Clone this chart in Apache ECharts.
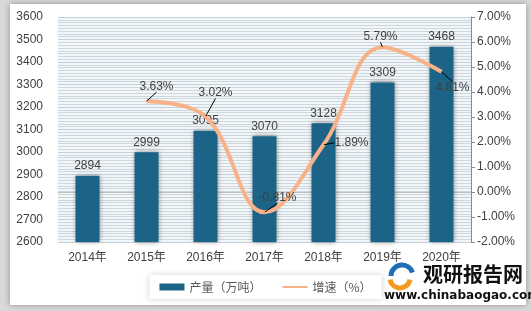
<!DOCTYPE html>
<html>
<head>
<meta charset="utf-8">
<script src="https://cdn.jsdelivr.net/npm/echarts@6/dist/echarts.min.js"></script>
<style>
html,body{margin:0;padding:0;background:#d9d9d9;}
#wrap{position:absolute;left:10px;top:4px;width:516px;height:301px;background:#fff;box-shadow:0 0 6px rgba(0,0,0,0.35);}
#chart{position:absolute;left:0;top:0;width:531px;height:311px;}
</style>
</head>
<body>
<div id="wrap"></div>
<div id="chart"></div>
<script>
//数据
var years = ['2014年', '2015年', '2016年', '2017年', '2018年', '2019年', '2020年'];
var output = [2894, 2999, 3095, 3070, 3128, 3309, 3468];
var growth = ['-', 3.63, 3.02, -0.81, 1.89, 5.79, 4.81];
// 增速标签偏移
var labelOffset = [[0, 0], [10, -15], [10, -24], [13, -15], [28, -2], [-2, -11], [11, 16]];

var font = 'Liberation Sans, Noto Sans CJK SC, sans-serif';
var txt = '#404040';

var myChart = echarts.init(document.getElementById('chart'));
var option = {
	textStyle: { fontFamily: font },
	grid: {
		left: 58,
		right: 60,
		top: 17,
		bottom: 69,
		show: true,
		backgroundColor: '#f3f6f8',
		borderWidth: 0
	},
	legend: {
		left: 'center',
		top: 275,
		itemWidth: 25,
		itemHeight: 7,
		itemGap: 20,
		padding: [6, 10],
		backgroundColor: '#fff',
		shadowBlur: 6,
		shadowColor: 'rgba(0,0,0,0.18)',
		textStyle: { color: '#595959', fontSize: 12, fontFamily: 'Noto Sans CJK SC' },
		data: [
			{ name: '产量（万吨）', icon: 'rect' },
			{ name: '增速（%）' }
		]
	},
	xAxis: {
		type: 'category',
		data: years,
		axisLine: { lineStyle: { color: '#bfbfbf' } },
		axisTick: { show: false },
		axisLabel: { color: txt, fontSize: 12, margin: 10, fontFamily: font }
	},
	yAxis: [{
		type: 'value',
		min: 2600,
		max: 3600,
		interval: 100,
		axisLine: { show: false },
		axisTick: { show: false },
		axisLabel: {
			color: txt,
			fontSize: 12,
			margin: 15,
			formatter: function (v) { return String(v); }
		},
		splitLine: { lineStyle: { color: '#c5d0d8' } },
		minorTick: { show: false, splitNumber: 8 },
		minorSplitLine: { show: true, lineStyle: { color: '#cdd7de' } }
	}, {
		type: 'value',
		min: -2,
		max: 7,
		interval: 1,
		axisLine: { show: true, lineStyle: { color: '#8c8c8c' } },
		axisTick: { show: true, length: 4, lineStyle: { color: '#8c8c8c' } },
		axisLabel: {
			color: txt,
			fontSize: 12,
			margin: 6,
			formatter: function (v) { return v.toFixed(2) + '%'; }
		},
		splitLine: { show: false }
	}],
	series: [{
		name: '产量（万吨）',
		type: 'bar',
		barWidth: 24,
		data: output,
		itemStyle: {
			color: '#1b6487',
			shadowBlur: 5,
			shadowColor: 'rgba(0,0,0,0.45)'
		},
		label: {
			show: true,
			position: 'top',
			distance: 4,
			color: txt,
			fontSize: 12
		}
	}, {
		name: '增速（%）',
		type: 'line',
		yAxisIndex: 1,
		smooth: 0.4,
		data: growth,
		symbol: 'circle',
		symbolSize: 1,
		itemStyle: { color: 'rgba(0,0,0,0)' },
		lineStyle: { color: '#f7b28a', width: 4 },
		label: {
			show: true,
			position: 'inside',
			color: txt,
			fontSize: 12,
			formatter: function (p) { return p.value.toFixed(2) + '%'; }
		},
		labelLine: { show: true, lineStyle: { color: '#000', width: 1 } },
		labelLayout: function (p) {
			var o = labelOffset[p.dataIndex];
			return { dx: o[0], dy: o[1] };
		}
	}],
	graphic: [{
		type: 'text',
		left: 423,
		top: 264,
		style: { text: '观研报告网', fill: '#111', font: 'bold 20px "Noto Sans CJK SC"' }
	}, {
		type: 'text',
		left: 384,
		top: 290,
		style: { text: 'www.chinabaogao.com', fill: '#111', font: 'bold 12px "DejaVu Sans"' }
	}, {
		type: 'arc',
		shape: { cx: 402, cy: 276, r: 11, startAngle: Math.PI * 1.0, endAngle: Math.PI * 1.9 },
		style: { stroke: '#1f6fb5', lineWidth: 5, fill: 'none' }
	}, {
		type: 'arc',
		shape: { cx: 400, cy: 278, r: 10, startAngle: Math.PI * 0.05, endAngle: Math.PI * 0.95 },
		style: { stroke: '#f29b1d', lineWidth: 5, fill: 'none' }
	}]
};
myChart.setOption(option);
window.onresize = function () {
	myChart.resize();
}
</script>
</body>
</html>
